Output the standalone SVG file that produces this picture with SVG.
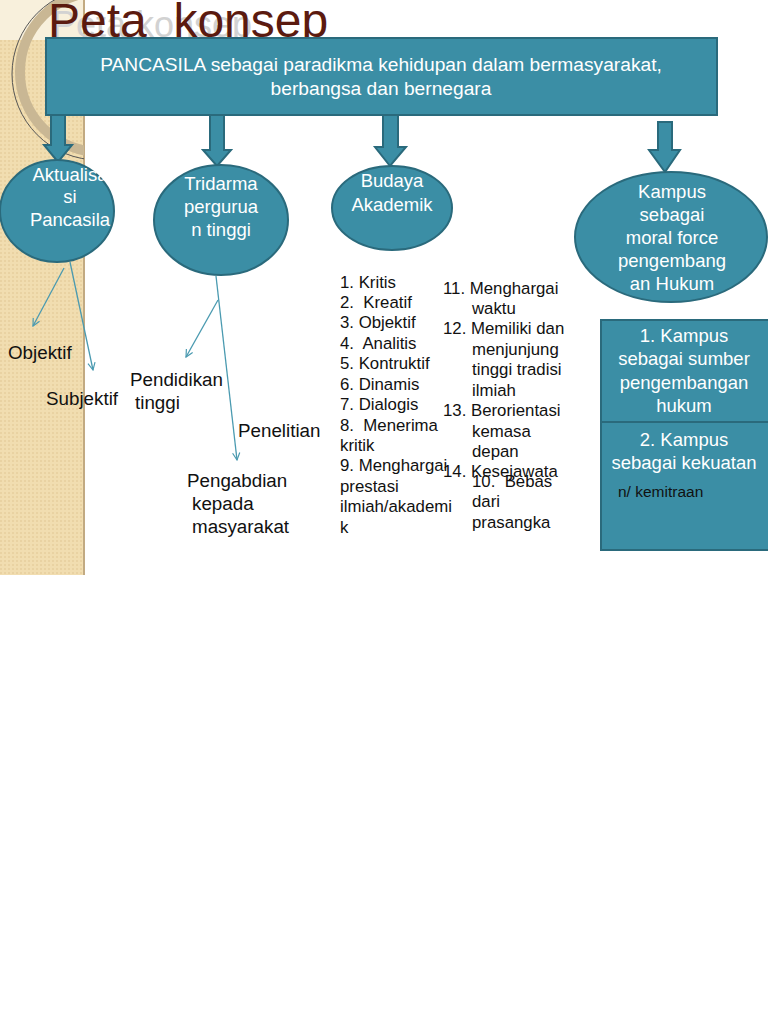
<svg xmlns="http://www.w3.org/2000/svg" width="768" height="1024" viewBox="0 0 768 1024">
<defs>
<style>
.node{fill:#3b8ea5;stroke:#2a6a7c;stroke-width:2}
.wt{font-family:"Liberation Sans",Arial,sans-serif;fill:#ffffff;font-size:18.5px;text-anchor:middle}
.mt{font-size:19.2px}
.bt{font-family:"Liberation Sans",Arial,sans-serif;fill:#111111;font-size:18.8px}
.lt{font-family:"Liberation Sans",Arial,sans-serif;fill:#111111;font-size:16.8px}
.thin{stroke:#4a9ab0;stroke-width:1.3;fill:none;marker-end:url(#v)}
</style>
<marker id="v" viewBox="0 0 10 10" refX="9" refY="5" markerWidth="9" markerHeight="9" orient="auto" markerUnits="userSpaceOnUse">
<path d="M1,1 L9,5 L1,9" fill="none" stroke="#4a9ab0" stroke-width="1.3"/>
</marker>
<pattern id="dots" width="4" height="4" patternUnits="userSpaceOnUse">
<rect width="4" height="4" fill="#f1ddb0"/>
<rect width="2" height="2" fill="#e9d2a2"/>
</pattern>
<clipPath id="strip"><rect x="0" y="0" width="84" height="575"/></clipPath>
</defs>
<rect width="768" height="1024" fill="#ffffff"/>
<g id="background">
<rect x="0" y="0" width="84" height="575" fill="url(#dots)"/>
<rect x="0" y="0" width="84" height="40" fill="#f8f0dc"/>
<line x1="84" y1="0" x2="84" y2="575" stroke="#c2aa82" stroke-width="2"/>
<g clip-path="url(#strip)">
<circle cx="100" cy="72" r="80" fill="none" stroke="#c9b794" stroke-width="10"/>
<circle cx="98" cy="74" r="86" fill="none" stroke="#555555" stroke-width="1"/>
</g>
<text x="52" y="37" font-family="'Liberation Sans',Arial,sans-serif" font-size="36" fill="#d2d2d2">Peta konsep</text>
<text x="48" y="37" font-family="'Liberation Sans',Arial,sans-serif" font-size="48" fill="#5b1a0f" xml:space="preserve">Peta  konsep</text>
</g>
<g id="connectors">
<path class="node" d="M51,115 H65 V145 H72 L58,162 L44,145 H51 Z"/>
<path class="node" d="M210,115 H224 V150 H231 L217,166 L203,150 H210 Z"/>
<path class="node" d="M383,115 H398 V147 H406 L390,166 L375,147 H383 Z"/>
<path class="node" d="M658,122 H672 V150 H680 L665,172 L649,150 H658 Z"/>
<line class="thin" x1="64" y1="268" x2="33" y2="326"/>
<line class="thin" x1="70" y1="262" x2="93" y2="370"/>
<line class="thin" x1="216" y1="276" x2="237" y2="460"/>
<line class="thin" x1="218" y1="300" x2="186" y2="357"/>
</g>
<g id="main">
<rect class="node" x="46" y="38" width="671" height="77"/>
<text class="wt mt" x="381" y="71">PANCASILA sebagai paradikma kehidupan dalam bermasyarakat,</text>
<text class="wt mt" x="381" y="95">berbangsa dan bernegara</text>
</g>
<g id="aktualisasi">
<ellipse class="node" cx="57" cy="211" rx="57" ry="51"/>
<text class="wt" x="70" y="181">Aktualisa</text>
<text class="wt" x="70" y="203">si</text>
<text class="wt" x="70" y="226">Pancasila</text>
</g>
<g id="tridarma">
<ellipse class="node" cx="221" cy="220" rx="67" ry="55"/>
<text class="wt" x="221" y="190">Tridarma</text>
<text class="wt" x="221" y="213">pergurua</text>
<text class="wt" x="221" y="236">n tinggi</text>
</g>
<g id="budaya">
<ellipse class="node" cx="392" cy="208" rx="60" ry="42"/>
<text class="wt" x="392" y="187">Budaya</text>
<text class="wt" x="392" y="211">Akademik</text>
</g>
<g id="kampus">
<ellipse class="node" cx="671" cy="237" rx="96" ry="65"/>
<text class="wt" x="672" y="198">Kampus</text>
<text class="wt" x="672" y="221">sebagai</text>
<text class="wt" x="672" y="244">moral force</text>
<text class="wt" x="672" y="267">pengembang</text>
<text class="wt" x="672" y="290">an Hukum</text>
</g>
<g id="labels">
<text class="bt" x="8" y="359">Objektif</text>
<text class="bt" x="46" y="405">Subjektif</text>
<text class="bt" x="130" y="386">Pendidikan</text>
<text class="bt" x="135" y="409">tinggi</text>
<text class="bt" x="238" y="437">Penelitian</text>
<text class="bt" x="187" y="487">Pengabdian</text>
<text class="bt" x="192" y="510">kepada</text>
<text class="bt" x="192" y="533">masyarakat</text>
</g>
<g id="list1">
<text class="lt" x="340" y="288">1. Kritis</text>
<text class="lt" x="340" y="308" xml:space="preserve">2.  Kreatif</text>
<text class="lt" x="340" y="328">3. Objektif</text>
<text class="lt" x="340" y="349" xml:space="preserve">4.  Analitis</text>
<text class="lt" x="340" y="369">5. Kontruktif</text>
<text class="lt" x="340" y="390">6. Dinamis</text>
<text class="lt" x="340" y="410">7. Dialogis</text>
<text class="lt" x="340" y="431" xml:space="preserve">8.  Menerima</text>
<text class="lt" x="340" y="451">kritik</text>
<text class="lt" x="340" y="471">9. Menghargai</text>
<text class="lt" x="340" y="492">prestasi</text>
<text class="lt" x="340" y="512">ilmiah/akademi</text>
<text class="lt" x="340" y="533">k</text>
</g>
<g id="list2">
<text class="lt" x="443" y="294">11. Menghargai</text>
<text class="lt" x="472" y="314">waktu</text>
<text class="lt" x="443" y="334">12. Memiliki dan</text>
<text class="lt" x="472" y="355">menjunjung</text>
<text class="lt" x="472" y="375">tinggi tradisi</text>
<text class="lt" x="472" y="396">ilmiah</text>
<text class="lt" x="443" y="416">13. Berorientasi</text>
<text class="lt" x="472" y="437">kemasa</text>
<text class="lt" x="472" y="457">depan</text>
<text class="lt" x="443" y="477">14. Kesejawata</text>
<text class="lt" x="472" y="487" xml:space="preserve">10.  Bebas</text>
<text class="lt" x="472" y="507">dari</text>
<text class="lt" x="472" y="528">prasangka</text>
</g>
<g id="box1">
<rect class="node" x="601" y="320" width="170" height="102"/>
<text class="wt" x="684" y="342">1. Kampus</text>
<text class="wt" x="684" y="365">sebagai sumber</text>
<text class="wt" x="684" y="389">pengembangan</text>
<text class="wt" x="684" y="412">hukum</text>
</g>
<g id="box2">
<rect class="node" x="601" y="422" width="170" height="128"/>
<text class="wt" x="684" y="446">2. Kampus</text>
<text class="wt" x="684" y="469">sebagai kekuatan</text>
<text x="618" y="497" font-family="'Liberation Sans',Arial,sans-serif" font-size="15.5" fill="#111111">n/ kemitraan</text>
</g>
</svg>
